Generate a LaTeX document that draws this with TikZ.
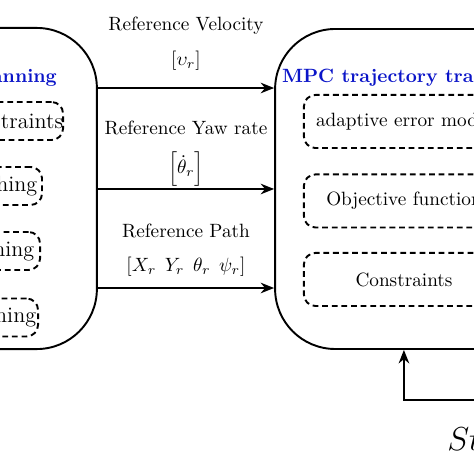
\documentclass[tikz,border=0pt]{standalone}
\usepackage{amsmath, amssymb}
\usepackage{xcolor}
\usetikzlibrary{arrows.meta, positioning, calc}
\definecolor{plan_blue}{RGB}{10, 20, 200}

\begin{document}
\begin{tikzpicture}[
      big/.style={draw, line width=1pt, rounded corners=1.1cm, inner sep=0pt},
      sub/.style={draw, line width=1pt, dash pattern=on 3pt off 2pt,
                  rounded corners=6pt, align=center},
      lsub/.style={sub, anchor=east, minimum height=0.695cm,
                   font=\fontsize{11.5}{14}\selectfont},
      rsub/.style={sub, minimum width=3.66cm, minimum height=0.97cm},
      ttl/.style={font=\bfseries, color=plan_blue},
      arr/.style={-{Stealth[length=7pt, width=5.5pt]}, line width=1pt}]
  \useasboundingbox (0,0) rectangle (8.665,8.665);
  \clip (0,0) rectangle (8.665,8.665);
  % Planning block
  \node[big, minimum width=4.77cm, minimum height=5.87cm] (plan)
    at (-0.614,5.219) {};
  \node[ttl, anchor=east, inner xsep=0pt] (plantitle)
    at (1.045,7.239) {Path planning};
  \node[lsub, inner xsep=0pt] (pc) at (1.170,6.453) {Vehicle constraints};
  \node[lsub, inner xsep=2.5pt] (ps) at (0.786,5.265) {Path smoothing};
  \node[lsub, inner xsep=3pt] (pg) at (0.750,4.077) {Global planning};
  \node[lsub, inner xsep=1pt] (pl) at (0.713,2.861) {Local planning};
  % MPC block
  \node[big, minimum width=4.71cm, minimum height=5.85cm] (mpc)
    at (7.384,5.21) {};
  \node[ttl, anchor=west, inner xsep=0pt] (mpctitle)
    at (5.15,7.239) {MPC trajectory tracking};
  \node[rsub] (err) at (7.385,6.444) {adaptive error model};
  \node[rsub] (obj) at (7.385,4.991) {Objective function};
  \node[rsub] (con) at (7.385,3.556) {Constraints};
  % Reference signals
  \draw[arr] (plan.east |- 0,7.056) -- (mpc.west |- 0,7.056);
  \draw[arr] (plan.east |- 0,5.210) -- (mpc.west |- 0,5.210);
  \draw[arr] (plan.east |- 0,3.400) -- (mpc.west |- 0,3.400);
  \node (vel) at (3.40,8.190) {Reference Velocity};
  \node (velv) at (3.40,7.550) {$[\upsilon_r]$};
  \node (yaw) at (3.40,6.320) {Reference Yaw rate};
  \node (yawv) at (3.40,5.580) {$\left[\dot{\theta}_r\right]$};
  \node (path) at (3.40,4.442) {Reference Path};
  \node (pathv) at (3.40,3.784) {$[X_r\;\,Y_r\;\,\theta_r\;\,\psi_r]$};
  % Feedback
  \coordinate (fb) at (10,1.353);
  \draw[arr] (fb) -| (mpc.south);
  \node[anchor=west, inner xsep=0pt, font=\LARGE] (state)
    at (8.17,0.64) {$States$};
\end{tikzpicture}
\end{document}
